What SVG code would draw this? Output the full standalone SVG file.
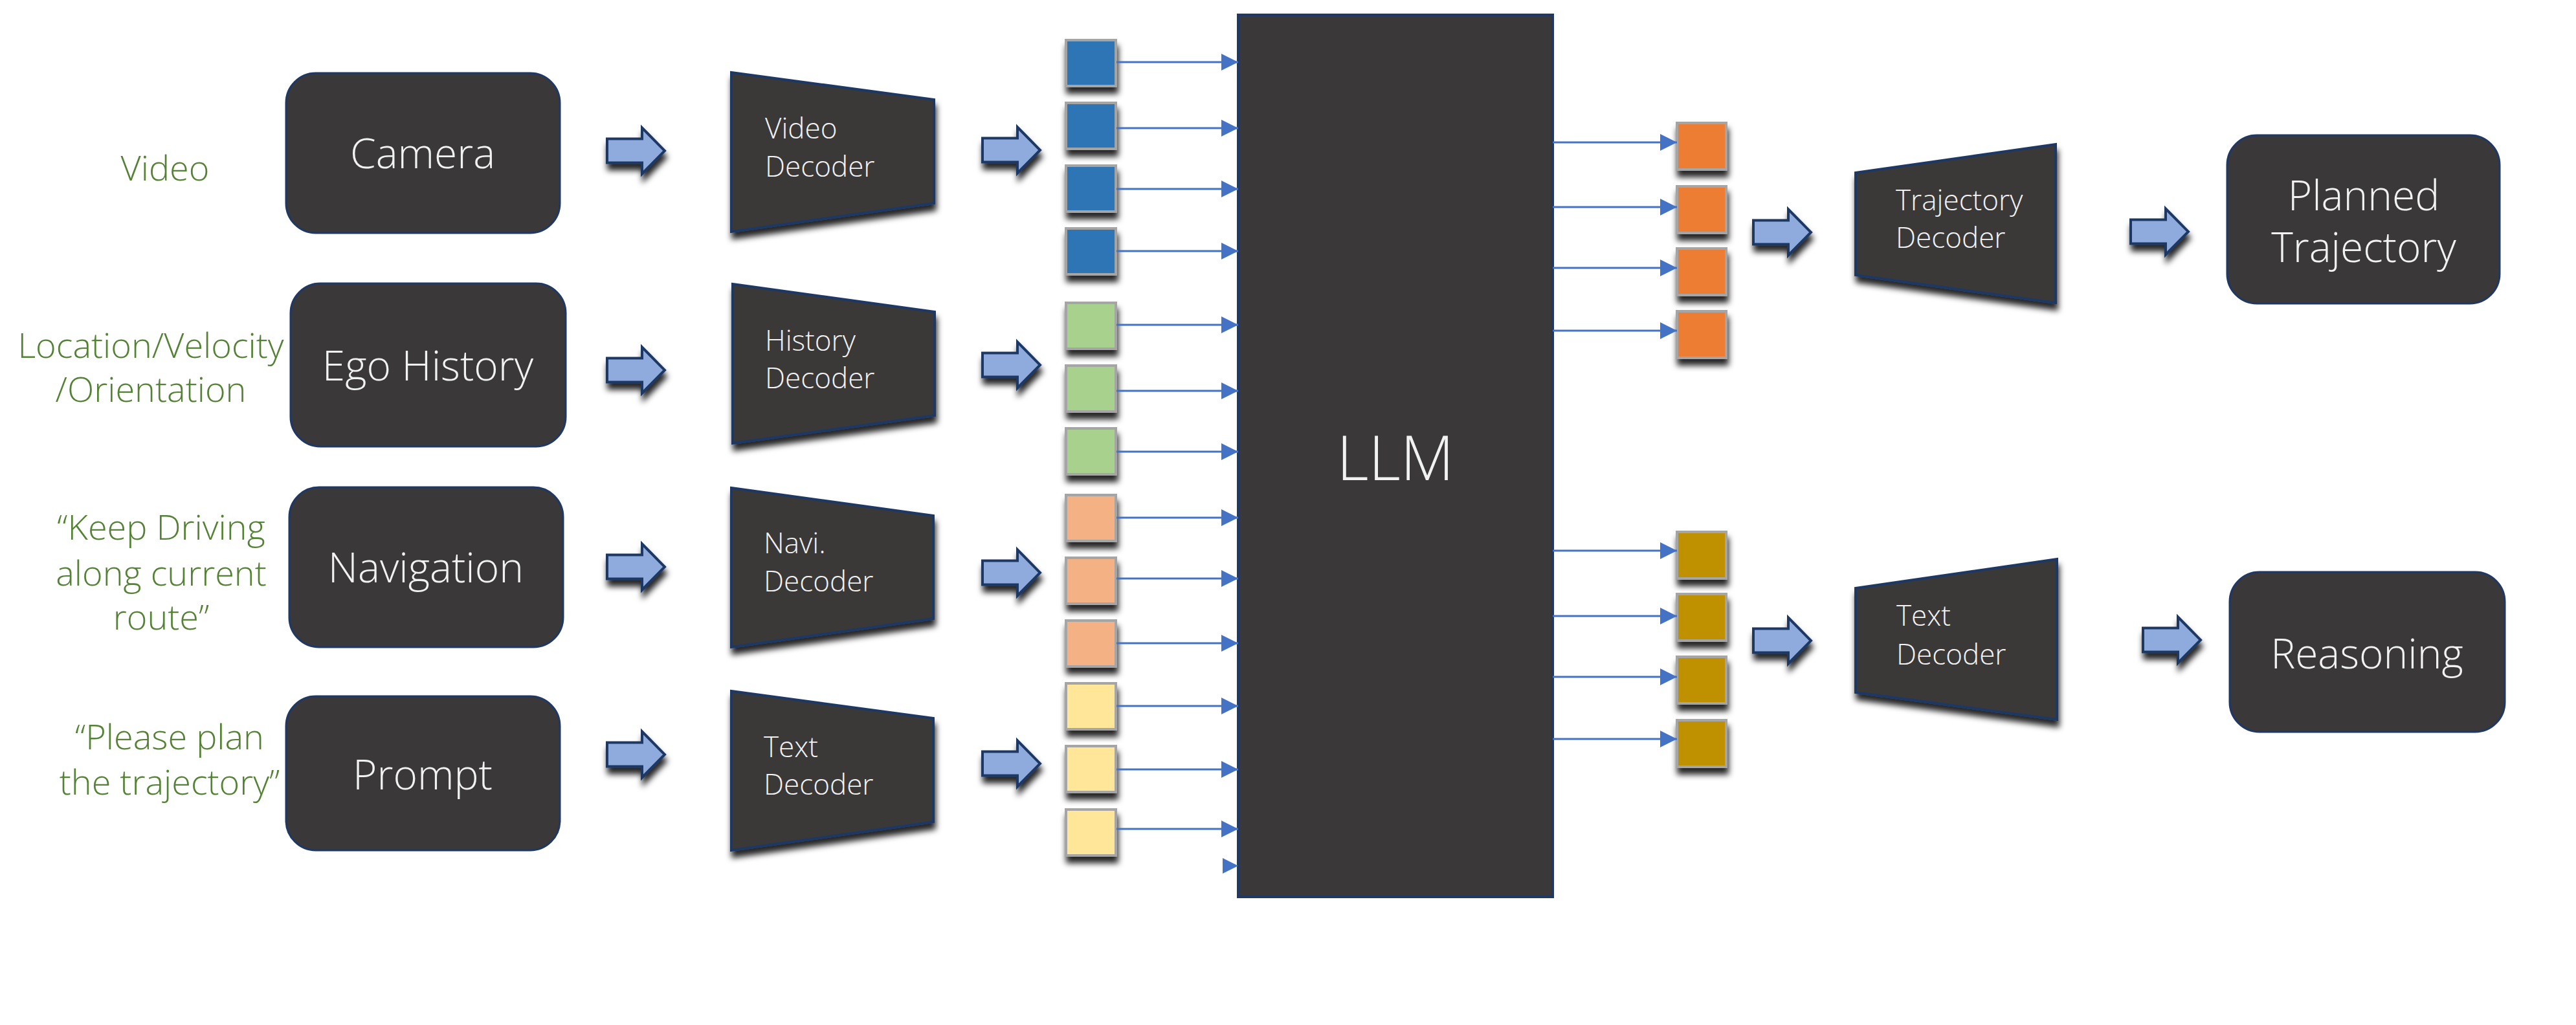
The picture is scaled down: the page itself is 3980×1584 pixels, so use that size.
<svg xmlns="http://www.w3.org/2000/svg" xmlns:xlink="http://www.w3.org/1999/xlink" width="3980" height="1584" viewBox="0 0 3980 1584">
<defs>
<style>
.box{fill:#3A3838;stroke:#1F3864;stroke-width:3}
.dec{fill:#3A3838;stroke:#1F3864;stroke-width:4;filter:url(#sh)}
.wt{fill:#F2F2F2;font-family:"Open Sans","Noto Sans",sans-serif;font-weight:300}
.gt{fill:#548235;font-family:"Open Sans","Noto Sans",sans-serif;font-weight:300;font-size:54px;text-anchor:middle}
.tok{stroke:#A5A5A5;stroke-width:4;filter:url(#sh)}
.ln{stroke:#4472C4;stroke-width:3;fill:none;marker-end:url(#ah)}
.ba{fill:#8FAADC;stroke:#1F3864;stroke-width:4;stroke-linejoin:miter;filter:url(#sh)}
</style>
<filter id="sh" x="-30%" y="-30%" width="160%" height="170%">
<feDropShadow dx="2" dy="10" stdDeviation="5" flood-color="#000" flood-opacity="0.85"/>
</filter>
<marker id="ah" markerUnits="userSpaceOnUse" markerWidth="26" markerHeight="26" refX="24" refY="12" orient="auto" viewBox="0 0 24 24">
<path d="M0,0 L24,12 L0,24 Z" fill="#4472C4"/>
</marker>
<path id="barrow" d="M0,-18.5 H54 V-35.5 L89,0 L54,35.5 V18.5 H0 Z"/>
</defs>
<rect width="3980" height="1584" fill="#FFFFFF"/>

<g id="labels">
<text class="gt" x="255" y="279">Video</text>
<text class="gt" x="233" y="553">Location/Velocity</text>
<text class="gt" x="233" y="621">/Orientation</text>
<text class="gt" x="249" y="834">“Keep Driving</text>
<text class="gt" x="249" y="905">along current</text>
<text class="gt" x="249" y="973">route”</text>
<text class="gt" x="262" y="1158">“Please plan</text>
<text class="gt" x="262" y="1228">the trajectory”</text>
</g>

<g id="camera"><rect class="box" x="442" y="113" width="423" height="247" rx="46"/><text class="wt" x="653" y="260" font-size="64" text-anchor="middle">Camera</text></g>
<g id="ego-history"><rect class="box" x="449" y="438" width="425" height="252" rx="46"/><text class="wt" x="661" y="588" font-size="64" text-anchor="middle">Ego History</text></g>
<g id="navigation"><rect class="box" x="447" y="753" width="423" height="247" rx="46"/><text class="wt" x="658" y="900" font-size="64" text-anchor="middle">Navigation</text></g>
<g id="prompt"><rect class="box" x="442" y="1076" width="423" height="238" rx="46"/><text class="wt" x="653" y="1220" font-size="64" text-anchor="middle">Prompt</text></g>

<g id="video-decoder"><polygon class="dec" points="1130,112 1443,154 1443,314 1130,358"/><text class="wt" x="1182" y="214" font-size="44">Video</text><text class="wt" x="1182" y="273" font-size="44">Decoder</text></g>
<g id="history-decoder"><polygon class="dec" points="1132,439 1444,482 1444,642 1132,685"/><text class="wt" x="1182" y="542" font-size="44">History</text><text class="wt" x="1182" y="600" font-size="44">Decoder</text></g>
<g id="navi-decoder"><polygon class="dec" points="1130,754 1442,797 1442,956 1130,1000"/><text class="wt" x="1180" y="855" font-size="44">Navi.</text><text class="wt" x="1180" y="914" font-size="44">Decoder</text></g>
<g id="text-decoder-in"><polygon class="dec" points="1130,1068 1442,1110 1442,1270 1130,1314"/><text class="wt" x="1180" y="1170" font-size="44">Text</text><text class="wt" x="1180" y="1228" font-size="44">Decoder</text></g>

<g id="block-arrows">
<use xlink:href="#barrow" class="ba" transform="translate(938,233)"/>
<use xlink:href="#barrow" class="ba" transform="translate(938,572)"/>
<use xlink:href="#barrow" class="ba" transform="translate(938,876)"/>
<use xlink:href="#barrow" class="ba" transform="translate(938,1166)"/>
<use xlink:href="#barrow" class="ba" transform="translate(1518,232)"/>
<use xlink:href="#barrow" class="ba" transform="translate(1518,564)"/>
<use xlink:href="#barrow" class="ba" transform="translate(1518,885)"/>
<use xlink:href="#barrow" class="ba" transform="translate(1518,1180)"/>
<use xlink:href="#barrow" class="ba" transform="translate(2709,359)"/>
<use xlink:href="#barrow" class="ba" transform="translate(2709,990)"/>
<use xlink:href="#barrow" class="ba" transform="translate(3292,358)"/>
<use xlink:href="#barrow" class="ba" transform="translate(3311,989)"/>
</g>

<g id="input-tokens">
<rect class="tok" x="1647" y="62" width="77" height="71" fill="#2E75B6"/>
<rect class="tok" x="1647" y="159" width="77" height="71" fill="#2E75B6"/>
<rect class="tok" x="1647" y="256" width="77" height="71" fill="#2E75B6"/>
<rect class="tok" x="1647" y="353" width="77" height="71" fill="#2E75B6"/>
<rect class="tok" x="1647" y="468" width="77" height="71" fill="#A9D18E"/>
<rect class="tok" x="1647" y="565" width="77" height="71" fill="#A9D18E"/>
<rect class="tok" x="1647" y="662" width="77" height="71" fill="#A9D18E"/>
<rect class="tok" x="1647" y="765" width="77" height="71" fill="#F4B183"/>
<rect class="tok" x="1647" y="862" width="77" height="71" fill="#F4B183"/>
<rect class="tok" x="1647" y="959" width="77" height="71" fill="#F4B183"/>
<rect class="tok" x="1647" y="1056" width="77" height="71" fill="#FFE699"/>
<rect class="tok" x="1647" y="1153" width="77" height="71" fill="#FFE699"/>
<rect class="tok" x="1647" y="1251" width="77" height="71" fill="#FFE699"/>
</g>

<g id="llm"><rect x="1913" y="23" width="486" height="1363" fill="#3A3838" stroke="#1F3864" stroke-width="4"/><text class="wt" x="2156" y="742" font-size="96" text-anchor="middle">LLM</text></g>

<g id="output-tokens">
<rect class="tok" x="2591" y="190" width="76" height="72" fill="#ED7D31"/>
<rect class="tok" x="2591" y="288" width="76" height="72" fill="#ED7D31"/>
<rect class="tok" x="2591" y="384" width="76" height="72" fill="#ED7D31"/>
<rect class="tok" x="2591" y="481" width="76" height="72" fill="#ED7D31"/>
<rect class="tok" x="2591" y="822" width="76" height="72" fill="#BF9000"/>
<rect class="tok" x="2591" y="918" width="76" height="72" fill="#BF9000"/>
<rect class="tok" x="2591" y="1015" width="76" height="72" fill="#BF9000"/>
<rect class="tok" x="2591" y="1113" width="76" height="72" fill="#BF9000"/>
</g>

<g id="connectors">
<line class="ln" x1="1725" y1="96" x2="1913" y2="96"/>
<line class="ln" x1="1725" y1="198" x2="1913" y2="198"/>
<line class="ln" x1="1725" y1="292" x2="1913" y2="292"/>
<line class="ln" x1="1725" y1="388" x2="1913" y2="388"/>
<line class="ln" x1="1725" y1="502" x2="1913" y2="502"/>
<line class="ln" x1="1725" y1="604" x2="1913" y2="604"/>
<line class="ln" x1="1725" y1="698" x2="1913" y2="698"/>
<line class="ln" x1="1725" y1="800" x2="1913" y2="800"/>
<line class="ln" x1="1725" y1="894" x2="1913" y2="894"/>
<line class="ln" x1="1725" y1="994" x2="1913" y2="994"/>
<line class="ln" x1="1725" y1="1091" x2="1913" y2="1091"/>
<line class="ln" x1="1725" y1="1189" x2="1913" y2="1189"/>
<line class="ln" x1="1725" y1="1281" x2="1913" y2="1281"/>
<path d="M1889,1326 L1913,1338 L1889,1350 Z" fill="#4472C4"/>
<line class="ln" x1="2399" y1="220" x2="2591" y2="220"/>
<line class="ln" x1="2399" y1="320" x2="2591" y2="320"/>
<line class="ln" x1="2399" y1="414" x2="2591" y2="414"/>
<line class="ln" x1="2399" y1="511" x2="2591" y2="511"/>
<line class="ln" x1="2399" y1="851" x2="2591" y2="851"/>
<line class="ln" x1="2399" y1="952" x2="2591" y2="952"/>
<line class="ln" x1="2399" y1="1046" x2="2591" y2="1046"/>
<line class="ln" x1="2399" y1="1142" x2="2591" y2="1142"/>
</g>

<g id="trajectory-decoder"><polygon class="dec" points="2867,267 3176,223 3176,468 2867,425"/><text class="wt" x="2929" y="325" font-size="44">Trajectory</text><text class="wt" x="2929" y="383" font-size="44">Decoder</text></g>
<g id="text-decoder-out"><polygon class="dec" points="2867,909 3178,864 3178,1112 2867,1070"/><text class="wt" x="2930" y="967" font-size="44">Text</text><text class="wt" x="2930" y="1027" font-size="44">Decoder</text></g>

<g id="planned-trajectory"><rect class="box" x="3441" y="209" width="421" height="260" rx="46"/><text class="wt" x="3652" y="325" font-size="64" text-anchor="middle">Planned</text><text class="wt" x="3652" y="405" font-size="64" text-anchor="middle">Trajectory</text></g>
<g id="reasoning"><rect class="box" x="3445" y="884" width="425" height="247" rx="46"/><text class="wt" x="3657" y="1033" font-size="64" text-anchor="middle">Reasoning</text></g>
</svg>
